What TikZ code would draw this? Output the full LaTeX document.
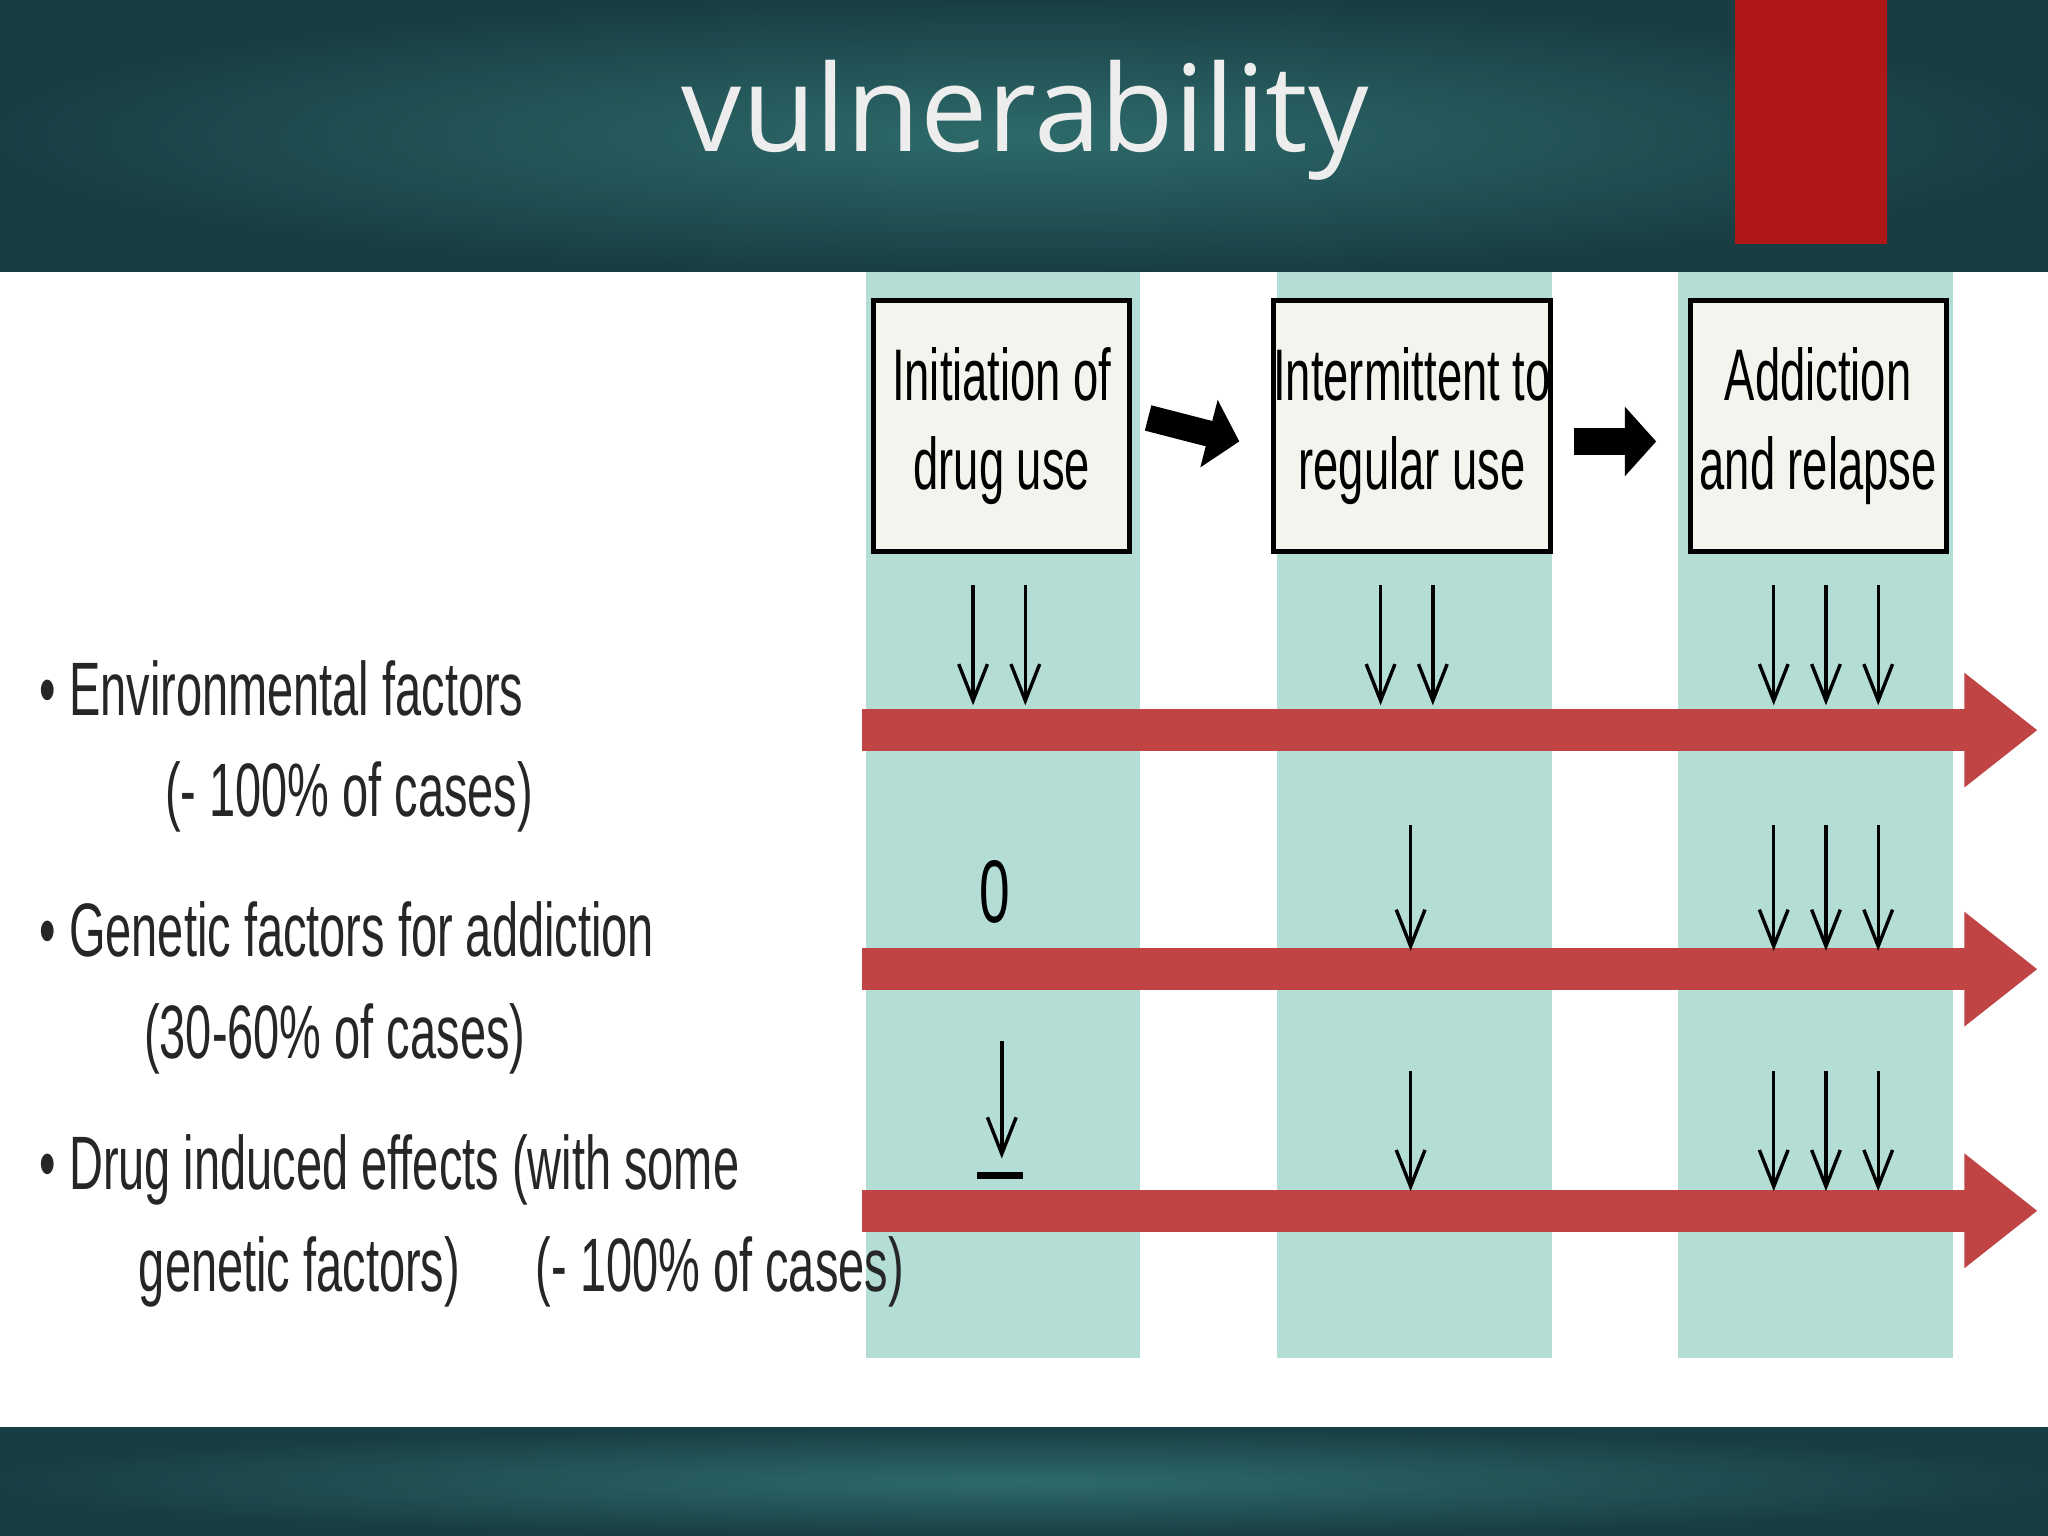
\documentclass[tikz,border=0pt]{standalone}
\usepackage{fontspec}
\setmainfont{Open Sans}
\newfontfamily\cond[FakeStretch=0.62]{Liberation Sans}
\usetikzlibrary{arrows.meta}
\definecolor{hdr}{HTML}{1E4E55}
\definecolor{hdrc}{HTML}{2E6A6A}
\definecolor{colbg}{HTML}{B3DDD5}
\definecolor{boxbg}{HTML}{F2F5EE}
\definecolor{redar}{HTML}{C04444}
\definecolor{redbox}{HTML}{B01818}
\tikzset{
 col/.style={fill=colbg,draw=none},
 stage/.style={draw=black,line width=2pt,fill=boxbg,minimum width=98pt,minimum height=96pt,align=center,font=\cond\fontsize{28}{34}\selectfont,inner sep=0pt},
 bigarrow/.style={-{Triangle[length=12pt,width=26pt]},line width=10pt,black},
 redarrow/.style={-{Triangle[length=28pt,width=42pt]},line width=16pt,redar},
 down/.style={-{Straight Barb[length=14pt,width=11pt]},line width=1.3pt,black},
 lbl/.style={anchor=north west,align=left,font=\cond\fontsize{29}{33}\selectfont,text=black!85,inner sep=0pt}
}
\begin{document}
\begin{tikzpicture}[x=0.5pt,y=-0.5pt]
\useasboundingbox (0,0) rectangle (1568,1176);
\fill[white] (0,0) rectangle (1568,1176);
\shade[inner color=hdrc,outer color=hdr!80!black] (0,0) rectangle (1568,208);
\shade[inner color=hdrc,outer color=hdr!80!black] (0,1093) rectangle (1568,1176);
\fill[redbox] (1328,0) rectangle (1445,187);
\node[text=white!93!black,font=\fontsize{46}{50}\selectfont] (title) at (785,92) {vulnerability};
% columns
\fill[col] (663,208) rectangle (873,1040);
\fill[col] (978,208) rectangle (1188,1040);
\fill[col] (1285,208) rectangle (1495,1040);
% boxes
\node[stage] (s1) at (767,326) {Initiation of\\drug use};
\node[stage] (s2) at (1081,326) {Intermittent to\\regular use};
\node[stage] (s3) at (1392,326) {Addiction\\and relapse};
\draw[bigarrow] (s1.east)++(12,-6) coordinate (a1) -- ([xshift=-12,yshift=-6]s2.west) coordinate (b1);
\draw[bigarrow] ([xshift=8,yshift=-6]s2.east) -- ([xshift=-12,yshift=-6]s3.west);
% red arrows
\coordinate (r1s) at (660,559); \coordinate (r1e) at (1560,559);
\coordinate (r2s) at (660,742); \coordinate (r2e) at (1560,742);
\coordinate (r3s) at (660,927); \coordinate (r3e) at (1560,927);
\draw[redarrow] (r1s) -- (r1e);
\draw[redarrow] (r2s) -- (r2e);
\draw[redarrow] (r3s) -- (r3e);
% down arrows row 1
\foreach \x in {745,785,1057,1097,1358,1398,1438}{\draw[down] (\x,448) -- (\x,540);}
% row 2
\node[font=\cond\fontsize{34}{36}\selectfont] (zero) at (762,683) {0};
\foreach \x in {1080,1358,1398,1438}{\draw[down] (\x,632) -- (\x,728);}
% row 3
\draw[down] (767,797) -- (767,887);
\draw[line width=2.5pt] (748,900) -- (783,900);
\foreach \x in {1080,1358,1398,1438}{\draw[down] (\x,820) -- (\x,912);}
% labels
\node[lbl] (l1) at (30,505) {• Environmental factors\\[6pt]\hspace*{48pt}(- 100\% of cases)};
\node[lbl] (l2) at (30,690) {• Genetic factors for addiction\\[6pt]\hspace*{40pt}(30-60\% of cases)};
\node[lbl] (l3) at (30,868) {• Drug induced effects (with some\\[6pt]\hspace*{38pt}genetic factors)\quad (- 100\% of cases)};
\end{tikzpicture}
\end{document}
